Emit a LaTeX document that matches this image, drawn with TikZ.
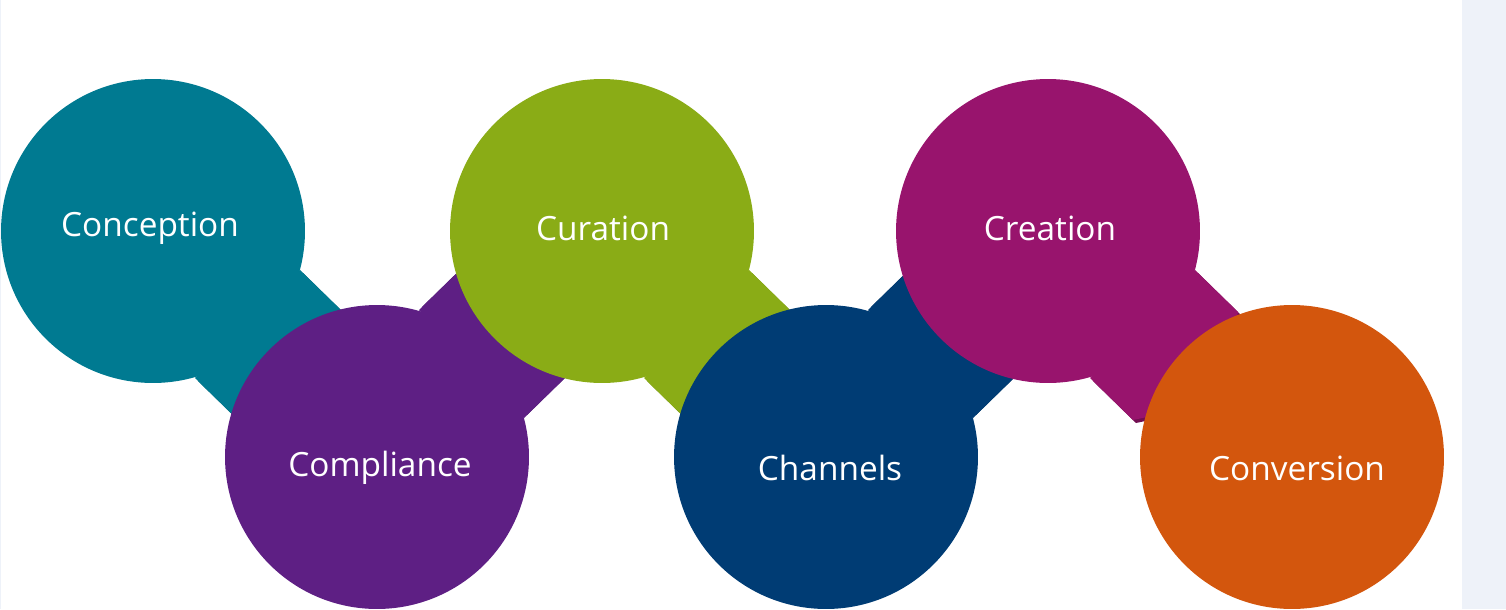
\documentclass[tikz,border=0pt]{standalone}
\usepackage{fontspec}
\setmainfont{Open Sans}
\definecolor{cteal}{HTML}{007A91}
\definecolor{cpurple}{HTML}{5E1F84}
\definecolor{cgreen}{HTML}{8AAC16}
\definecolor{cnavy}{HTML}{003C74}
\definecolor{cmagenta}{HTML}{98146D}
\definecolor{corange}{HTML}{D3560D}
\definecolor{strip}{HTML}{EEF2F9}
\tikzset{stage/.style = {circle, minimum size = 6.08cm, inner sep = 0, text = white, font = \fontsize{19}{23}\selectfont}}
% tab of a stage circle, pointing to the next one
\newcommand{\stagetab}[3]{%
  \begin{scope}[shift = {(#1)}, yscale = #3]
    \fill [#2!75!black] (150,42) -- (193,84) -- (172,174) -- (88,192) -- (45,150) -- cycle;
    \fill [#2] (147,39) -- (190,81) -- (169,171) -- (85,189) -- (42,147) -- cycle;
  \end{scope}}
\begin{document}
\begin{tikzpicture}[x = 0.02cm, y = -0.02cm]
  \useasboundingbox (0,0) rectangle (1506,609);
  \fill [strip] (1462,0) rectangle (1506,609);
  \draw [strip, line width = 1pt] (0.5,0) -- (0.5,609);

  \node [stage, fill = cteal] (conception) at (153,231) {};
  \stagetab{153,231}{cteal}{1}
  \node [stage, fill = cpurple] (compliance) at (377,457) {};
  \stagetab{377,457}{cpurple}{-1}
  \node [stage, fill = cgreen] (curation) at (602,231) {};
  \stagetab{602,231}{cgreen}{1}
  \node [stage, fill = cnavy] (channels) at (826,457) {};
  \stagetab{826,457}{cnavy}{-1}
  \node [stage, fill = cmagenta] (creation) at (1048,231) {};
  \stagetab{1048,231}{cmagenta}{1}
  \node [stage, fill = corange] (conversion) at (1292,457) {};

  \node [stage] at (150,228) {Conception};
  \node [stage] at (380,468) {Compliance};
  \node [stage] at (603,228) {Curation};
  \node [stage] at (830,468) {Channels};
  \node [stage] at (1050,228) {Creation};
  \node [stage] at (1297,468) {Conversion};
\end{tikzpicture}
\end{document}
